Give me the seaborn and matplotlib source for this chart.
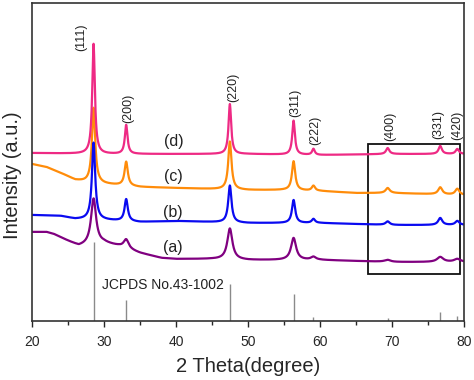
import numpy as np
import pandas as pd
import matplotlib
matplotlib.use("Agg")
import matplotlib.pyplot as plt
from matplotlib.patches import Rectangle
from matplotlib.ticker import MultipleLocator
import seaborn as sns

# ---------------- data ----------------
hkl_pos = [28.55, 33.08, 47.48, 56.33, 59.09, 69.40, 76.70, 79.07]
hkl_labels = ["(111)", "(200)", "(220)", "(311)", "(222)", "(400)", "(331)", "(420)"]
hkl_label_x = [26.9, 33.3, 47.9, 56.6, 59.3, 69.7, 76.4, 79.0]
hkl_label_y = [284, 213, 234, 218, 191, 195, 196, 196]
jcpds_height = [79, 21, 37, 27, 4.5, 3.5, 9.5, 5.5]

sample_names = ["(a)", "(b)", "(c)", "(d)"]
sample_colors = ["#800080", "#0A0AF0", "#FF8C0A", "#EE2A84"]
sample_label_xy = [(39.6, 73), (39.6, 108), (39.6, 144), (39.7, 179)]

# baseline control points (2theta, intensity) per sample
base_a_x = [20, 22, 23, 25, 26.5, 28, 30, 32, 35, 38, 40, 45, 50, 55, 60, 65, 70, 75, 80]
base_a_y = [89, 89, 87, 80, 75, 76, 78, 75, 68, 63, 62, 62, 61, 61, 61, 60, 59, 59, 59]
base_b_x = [20, 24, 26, 30, 35, 40, 45, 50, 55, 60, 65, 70, 75, 80]
base_b_y = [106, 105, 102, 101, 99, 100, 99, 98, 98, 98, 97, 96, 96, 96]
base_c_x = [20, 22, 24, 26, 27.5, 30, 35, 40, 45, 50, 55, 60, 65, 70, 75, 80]
base_c_y = [157, 154, 148, 141, 139, 137, 134, 133, 132, 131, 131, 130, 128, 128, 127, 126]
base_d_x = [20, 30, 40, 50, 60, 70, 80]
base_d_y = [168, 167, 167, 167, 166, 167, 167]

# peak heights above baseline, at hkl_pos
peaks_a = [46, 9, 31, 22, 3, 2, 5, 3]
peaks_b = [77, 22, 37, 23, 4, 3.5, 7, 4]
peaks_c = [75, 24, 48, 29, 5, 5, 7, 6]
peaks_d = [110, 29, 50, 34, 6, 6, 8, 5]
peak_hwhm = [0.42, 0.27, 0.27, 0.22]

box_x = (66.7, 79.5)
box_y = (47, 177)

# ---------------- build curves ----------------
theta = np.linspace(20, 80, 2401)
bases = [(base_a_x, base_a_y), (base_b_x, base_b_y), (base_c_x, base_c_y), (base_d_x, base_d_y)]
peaks = [peaks_a, peaks_b, peaks_c, peaks_d]

frames = []
for name, (bx, by), pk, g in zip(sample_names, bases, peaks, peak_hwhm):
    y = np.interp(theta, bx, by).astype(float)
    for p, h in zip(hkl_pos, pk):
        gg = g * (1.25 if p > 65 else 1.0)
        y = y + h * gg**2 / ((theta - p) ** 2 + gg**2)
    frames.append(pd.DataFrame({"theta": theta, "I": y, "sample": name}))
df = pd.concat(frames, ignore_index=True)

# ---------------- plot ----------------
sns.set_style("ticks")
plt.rcParams["font.family"] = ["Liberation Sans", "DejaVu Sans"]

fig = plt.figure(figsize=(4.74, 3.80), dpi=100)
ax = fig.add_axes([32 / 474, 1 - 321 / 380, 432 / 474, 318 / 380])

order = ["(c)", "(a)", "(b)", "(d)"]
cmap = dict(zip(sample_names, sample_colors))
for s in order:
    sns.lineplot(data=df[df["sample"] == s], x="theta", y="I", color=cmap[s],
                 lw=1.6, estimator=None, sort=False, ax=ax, legend=False)

ax.vlines(hkl_pos, 0, jcpds_height, color="#8a8a8a", lw=1.0)

for lab, x, y in zip(hkl_labels, hkl_label_x, hkl_label_y):
    ax.text(x, y, lab, rotation=90, ha="center", va="center", fontsize=9, color="#222222")
for lab, (x, y) in zip(sample_names, sample_label_xy):
    ax.text(x, y, lab, ha="center", va="center", fontsize=11.5, color="#222222")
ax.text(29.7, 36, "JCPDS No.43-1002", ha="left", va="center", fontsize=10, color="#222222")

ax.add_patch(Rectangle((box_x[0], box_y[0]), box_x[1] - box_x[0], box_y[1] - box_y[0],
                       fill=False, ec="#111111", lw=1.3))

ax.set_xlim(20, 80)
ax.set_ylim(0, 318)
ax.xaxis.set_major_locator(MultipleLocator(10))
ax.xaxis.set_minor_locator(MultipleLocator(5))
ax.set_yticks([])
ax.tick_params(axis="x", which="major", direction="out", length=4, width=1, labelsize=10, pad=6)
ax.tick_params(axis="x", which="minor", direction="out", length=3, width=1)
for sp in ax.spines.values():
    sp.set_visible(True)
    sp.set_color("#333333")
    sp.set_linewidth(1.2)

ax.set_xlabel("2 Theta(degree)", fontsize=14.5, labelpad=6)
ax.set_ylabel("Intensity (a.u.)", fontsize=14.5)
ax.yaxis.set_label_coords(-0.022, 0.46)

fig.savefig("out.png", dpi=100)
